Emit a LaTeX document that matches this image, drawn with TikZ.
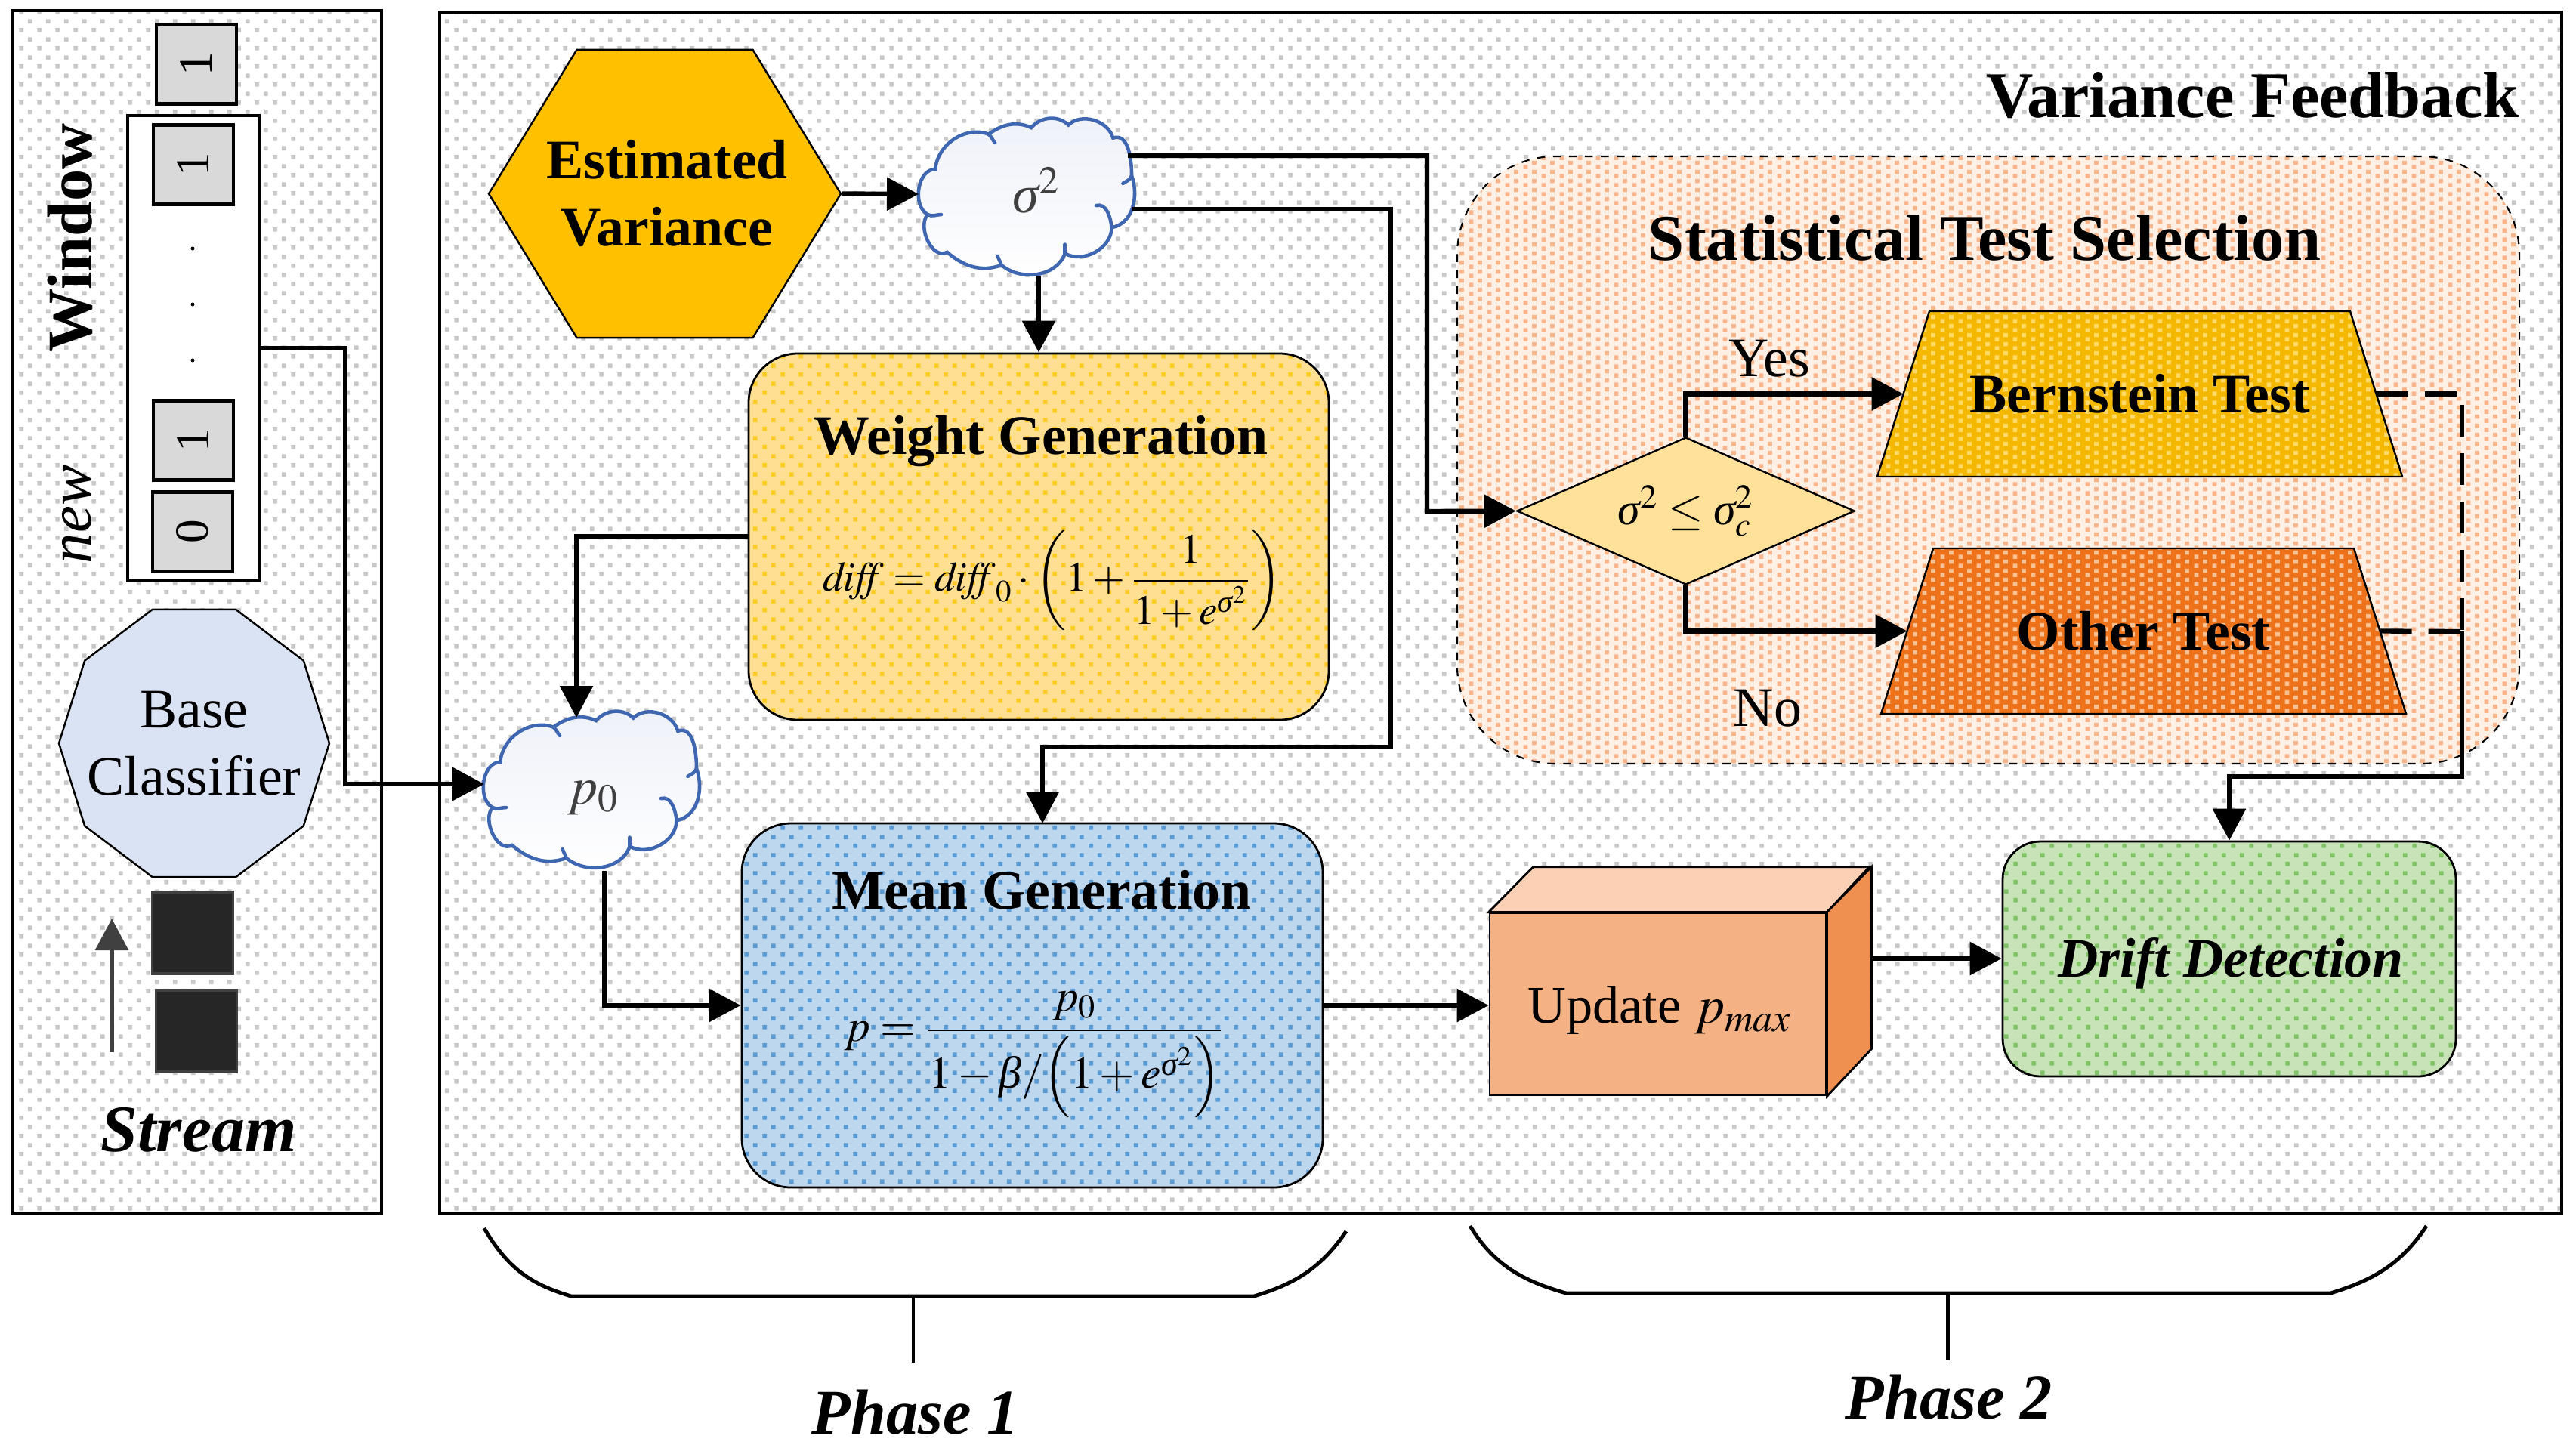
\documentclass[tikz,border=0pt]{standalone}
\usepackage{amsmath}
\usepackage{mathptmx}
\usepackage[no-math]{fontspec}
\setmainfont{Liberation Serif}
\usetikzlibrary{arrows.meta}
\usetikzlibrary{patterns}
\usetikzlibrary{shapes.geometric}

\definecolor{DotGray}{HTML}{C8C8C8}
\definecolor{HexGold}{HTML}{FFC000}
\definecolor{WeightBg}{HTML}{FFE093}
\definecolor{WeightDot}{HTML}{FFC926}
\definecolor{MeanBg}{HTML}{BDD7EE}
\definecolor{MeanDot}{HTML}{5B9BD5}
\definecolor{DriftBg}{HTML}{C8E3B8}
\definecolor{DriftDot}{HTML}{82C368}
\definecolor{TestBg}{HTML}{FFF0E6}
\definecolor{TestDot}{HTML}{FBB58A}
\definecolor{BernBg}{HTML}{F5B800}
\definecolor{BernDot}{HTML}{FFD966}
\definecolor{OtherBg}{HTML}{EE7219}
\definecolor{OtherDot}{HTML}{FBBF94}
\definecolor{CloudBlue}{HTML}{3F66B0}
\definecolor{CloudTint}{HTML}{EEF1F9}
\definecolor{BaseBlue}{HTML}{DAE3F3}
\definecolor{BitGray}{HTML}{D9D9D9}
\definecolor{Ink}{HTML}{404040}
\definecolor{SelectBg}{HTML}{FFE199}
\definecolor{BoxFront}{HTML}{F4B183}
\definecolor{BoxTop}{HTML}{FBD0B5}
\definecolor{BoxSide}{HTML}{F09050}

% square dots, one pixel of the target is 0.01cm
\pgfdeclarepatternformonly{sparse dots}{\pgfqpoint{0pt}{0pt}}{\pgfqpoint{6.83pt}{6.83pt}}{\pgfqpoint{6.83pt}{6.83pt}}{
    \pgfpathrectangle{\pgfqpoint{0.4pt}{0.4pt}}{\pgfqpoint{1.7pt}{1.7pt}}
    \pgfpathrectangle{\pgfqpoint{3.815pt}{3.815pt}}{\pgfqpoint{1.7pt}{1.7pt}}
    \pgfusepath{fill}}
\pgfdeclarepatternformonly{dense dots}{\pgfqpoint{0pt}{0pt}}{\pgfqpoint{6.83pt}{3.415pt}}{\pgfqpoint{6.83pt}{3.415pt}}{
    \pgfpathrectangle{\pgfqpoint{0.2pt}{0.0pt}}{\pgfqpoint{1.7pt}{1.7pt}}
    \pgfpathrectangle{\pgfqpoint{3.615pt}{1.707pt}}{\pgfqpoint{1.7pt}{1.7pt}}
    \pgfusepath{fill}}

\newcommand{\sizeA}{\fontsize{21}{25.5}\selectfont}
\newcommand{\sizeB}{\fontsize{24.6}{28}\selectfont}
\newcommand{\isigma}{\text{\itshape σ}}
\newcommand{\ibeta}{\text{\itshape β}}

\tikzset{
    sparse/.style 2 args={preaction={fill=#1},pattern=sparse dots,pattern color=#2},
    dense/.style 2 args={preaction={fill=#1},pattern=dense dots,pattern color=#2},
    panel/.style={draw,line width=1.2pt,rectangle,inner sep=0,sparse={white}{DotGray}},
    bit/.style={draw,line width=1.3pt,rectangle,inner sep=0,fill=BitGray,minimum width=1.05cm,minimum height=1.06cm,rotate=90,font=\fontsize{18}{18}\selectfont},
    dark_bit/.style={draw=Ink,line width=1pt,rectangle,fill=black!85,minimum width=1.07cm,minimum height=1.08cm},
    round_box/.style={draw,line width=0.8pt,rectangle,rounded corners=0.65cm,inner sep=0},
    puff_text/.style={inner sep=0,text=Ink,font=\fontsize{20}{20}\selectfont},
    puff_line/.style={draw=CloudBlue,line width=1.3pt,line cap=round},
    test_box/.style={draw,line width=0.7pt,trapezium,trapezium stretches body=true,trapezium left angle=72.5,trapezium right angle=72.5,minimum width=6.95cm,text height=1.34cm,text depth=0.85cm,inner sep=0,outer sep=0},
    title/.style={font=\bfseries\sizeA,inner sep=0},
    big_title/.style={font=\bfseries\sizeB,inner sep=0},
    plain/.style={font=\sizeA,inner sep=0},
    slanted/.style={font=\bfseries\itshape\fontsize{24}{28}\selectfont,inner sep=0},
    flow/.style={line width=1.8pt,-{Triangle[length=0.42cm,width=0.43cm]}},
    dash_line/.style={line width=1.8pt,dash pattern=on 0.42cm off 0.22cm},
    brace/.style={line width=1.4pt},
    puff_cloud/.pic={
        \draw[puff_line,top color=CloudTint,bottom color=white]
            (-1.183,0.35) to[out=85,in=160] (-0.5,0.8) to[out=35,in=155] (0.05,0.883)
            to[out=50,in=135] (0.527,0.917) to[out=45,in=105] (1.1,0.75) to[out=20,in=90] (1.34,0.267)
            to[out=-70,in=10] (1.083,-0.4) to[out=-90,in=-30] (0.483,-0.733) to[out=-110,in=-40] (-0.333,-0.883)
            to[out=-160,in=-40] (-1.033,-0.717) to[out=-150,in=-130] (-1.283,-0.233) to[out=150,in=180] cycle;
        \draw[puff_line] (-0.5,0.8) to[out=-40,in=130] (-0.417,0.69);
        \draw[puff_line] (-1.283,-0.233) to[out=-30,in=180] (-1.107,-0.233);
        \draw[puff_line] (1.34,0.267) to[out=-110,in=30] (1.227,0.167);
        \draw[puff_line] (1.083,-0.4) to[out=95,in=15] (0.883,-0.117);
        \draw[puff_line] (0.483,-0.733) -- (0.483,-0.617);
        \draw[puff_line] (-0.333,-0.883) to[out=110,in=-70] (-0.383,-0.767);
    }
}

\begin{document}
\begin{tikzpicture}
\useasboundingbox (0,0) rectangle (34.10,-19.16);

% panels
\node[panel,minimum width=4.88cm,minimum height=15.92cm] (left_panel) at (2.61,-8.10) {};
\node[panel,minimum width=28.09cm,minimum height=15.90cm] (right_panel) at (19.865,-8.11) {};
\node[big_title,anchor=center] (feedback) at (29.82,-1.26) {Variance Feedback};

% window and stream
\node[bit] (bit_top) at (2.60,-0.85) {1};
\node[draw,line width=1pt,rectangle,fill=white,inner sep=0,minimum width=1.74cm,minimum height=6.16cm] (window) at (2.56,-4.61) {};
\node[bit] (bit_a) at (2.56,-2.18) {1};
\node[bit] (bit_b) at (2.56,-5.83) {1};
\node[bit] (bit_c) at (2.55,-7.04) {0};
\foreach \i/\y in {a/3.29,b/4.03,c/4.77}
    \node[circle,fill,inner sep=0,minimum size=0.05cm] (dot_\i) at (2.55,-\y) {};
\node[font=\bfseries\fontsize{24}{24}\selectfont,rotate=90,inner sep=0] (window_label) at (0.93,-3.15) {Window};
\node[font=\itshape\fontsize{23}{23}\selectfont,rotate=90,inner sep=0] (new_label) at (1.02,-6.81) {new};
\node[regular polygon,regular polygon sides=10,draw,line width=0.7pt,fill=BaseBlue,inner sep=0,minimum size=3.58cm,transform shape,yscale=1.04] (base) at (2.57,-9.84) {};
\node[plain,align=center,font=\fontsize{21}{25.5}\selectfont] (base_label) at (2.57,-9.84) {Base\\Classifier};
\node[dark_bit] (item_a) at (2.55,-12.35) {};
\node[dark_bit] (item_b) at (2.60,-13.65) {};
\coordinate (stream_start) at (1.48,-13.93);
\coordinate (stream_end) at (1.48,-12.16);
\node[slanted,font=\bfseries\itshape\fontsize{25}{25}\selectfont] (stream_label) at (2.63,-14.96) {Stream};

% variance and the two clouds
\node[regular polygon,regular polygon sides=6,draw,line width=0.7pt,fill=HexGold,inner sep=0,minimum size=4.66cm,transform shape,yscale=0.945] (estimate) at (8.80,-2.565) {};
\node[title,align=center] (estimate_label) at (8.83,-2.56) {Estimated\\Variance};
\pic[scale=1.03] at (13.60,-2.60) {puff_cloud};
\node[puff_text] (sigma) at (13.72,-2.52) {$\isigma^2$};
\pic[scale=1.03] at (7.84,-10.45) {puff_cloud};
\node[puff_text] (start_p) at (7.85,-10.56) {$p_0$};

% generation boxes
\node[round_box,sparse={WeightBg}{WeightDot},minimum width=7.68cm,minimum height=4.85cm] (weight) at (13.75,-7.105) {};
\node[title] (weight_label) at (13.78,-5.84) {Weight Generation};
\node[inner sep=0,font=\fontsize{15.7}{15.7}\selectfont] (weight_eq) at (13.93,-7.69) {$\displaystyle \mathit{diff}=\mathit{diff}_0\cdot\left(1+\frac{1}{1+e^{\isigma^2}}\right)$};
\node[round_box,sparse={MeanBg}{MeanDot},minimum width=7.69cm,minimum height=4.82cm] (mean) at (13.665,-13.31) {};
\node[title] (mean_label) at (13.79,-11.78) {Mean Generation};
\node[inner sep=0,font=\fontsize{17}{17}\selectfont] (mean_eq) at (13.69,-13.96) {$\displaystyle p=\frac{p_0}{1-\ibeta/\Bigl(1+e^{\isigma^2}\Bigr)}$};

% test selection
\node[draw,dashed,line width=0.6pt,rectangle,rounded corners=1.3cm,inner sep=0,dense={TestBg}{TestDot},minimum width=14.06cm,minimum height=8.04cm] (selection) at (26.32,-6.09) {};
\node[big_title] (selection_label) at (26.27,-3.15) {Statistical Test Selection};
\node[draw,line width=0.7pt,diamond,aspect=2.29,minimum width=4.47cm,minimum height=1.95cm,inner sep=0,fill=SelectBg,font=\fontsize{17}{17}\selectfont] (select) at (22.315,-6.765) {$\isigma^2\le\isigma_c^2$};
\node[test_box,dense={BernBg}{BernDot},title] (bernstein) at (28.325,-5.215) {Bernstein Test};
\node[test_box,dense={OtherBg}{OtherDot},title] (other) at (28.375,-8.355) {Other Test};
\node[plain] (yes_label) at (23.42,-4.75) {Yes};
\node[plain] (no_label) at (23.40,-9.38) {No};

% update and detection
\node[draw,line width=0.8pt,rectangle,fill=BoxFront,inner sep=0,minimum width=4.45cm,minimum height=2.41cm] (update) at (21.945,-13.295) {};
\node[plain,font=\fontsize{20}{20}\selectfont] (update_label) at (21.97,-13.38) {Update $p_{max}$};
\draw[line width=0.8pt,fill=BoxTop] (update.north west) -- ++(0.59,0.60) -- ++(4.45,0) -- (update.north east) -- cycle;
\draw[line width=0.8pt,fill=BoxSide] (update.north east) -- ++(0.59,0.60) -- ++(0,-2.41) -- (update.south east) -- cycle;
\node[round_box,rounded corners=0.5cm,sparse={DriftBg}{DriftDot},minimum width=6.00cm,minimum height=3.11cm] (drift) at (29.51,-12.695) {};
\node[title,font=\bfseries\itshape\sizeA] (drift_label) at (29.53,-12.75) {Drift Detection};

% phases
\node[slanted] (phase_one) at (12.12,-18.70) {Phase 1};
\node[slanted] (phase_two) at (25.80,-18.50) {Phase 2};
\coordinate (one_l) at (6.41,-16.26);
\coordinate (one_a) at (7.56,-17.16);
\coordinate (one_b) at (16.60,-17.16);
\coordinate (one_r) at (17.82,-16.30);
\coordinate (one_m) at (12.09,-17.16);
\coordinate (one_s) at (12.09,-18.04);
\coordinate (two_l) at (19.46,-16.23);
\coordinate (two_a) at (20.73,-17.12);
\coordinate (two_b) at (30.85,-17.12);
\coordinate (two_r) at (32.12,-16.23);
\coordinate (two_m) at (25.78,-17.12);
\coordinate (two_s) at (25.78,-18.01);
\draw[brace] (one_l) .. controls (6.75,-16.85) and (7.10,-17.02) .. (one_a) -- (one_b) .. controls (17.05,-17.02) and (17.45,-16.85) .. (one_r);
\draw[brace] (one_m) -- (one_s);
\draw[brace] (two_l) .. controls (19.80,-16.80) and (20.25,-16.98) .. (two_a) -- (two_b) .. controls (31.30,-16.98) and (31.75,-16.80) .. (two_r);
\draw[brace] (two_m) -- (two_s);

% connectors
\coordinate (sigma_top) at (14.93,-2.06);
\coordinate (sigma_low) at (14.98,-2.77);
\coordinate (sigma_in) at (12.16,-2.57);
\coordinate (sigma_out) at (13.75,-3.65);
\coordinate (start_in) at (6.41,-10.38);
\coordinate (start_top) at (7.63,-9.50);
\coordinate (start_out) at (8.00,-11.53);
\coordinate (update_out) at (24.76,-12.69);
\coordinate (merge) at (32.59,-8.36);
\coordinate (window_bend) at (4.57,-10.38);
\coordinate (sigma_bend) at (18.89,-6.77);
\coordinate (mean_bend) at (18.41,-9.89);
\coordinate (mean_in) at (13.80,-10.90);
\coordinate (drift_bend) at (29.51,-10.28);
\draw[flow,Ink] (stream_start) -- (stream_end);
\draw[flow] (window.east) -| (window_bend) -- (start_in);
\draw[flow] (estimate.east) -- (sigma_in);
\draw[flow] (sigma_out) -- (sigma_out |- weight.north);
\draw[flow] (sigma_top) -| (sigma_bend) -- (select.west);
\draw[flow] (sigma_low) -| (mean_bend) -| (mean_in);
\draw[flow] (weight.west) -| (start_top);
\draw[flow] (start_out) |- (mean.west);
\draw[flow] (mean.east) -- (update.west |- mean.east);
\draw[flow] (update_out) -- (update_out -| drift.west);
\draw[flow] (select.north) |- (bernstein.west);
\draw[flow] (select.south) |- (other.west);
\draw[dash_line] (bernstein.east) -| (merge);
\draw[dash_line] (other.east) -- (merge);
\draw[flow] (merge) |- (drift_bend) -- (drift.north);
\end{tikzpicture}
\end{document}
